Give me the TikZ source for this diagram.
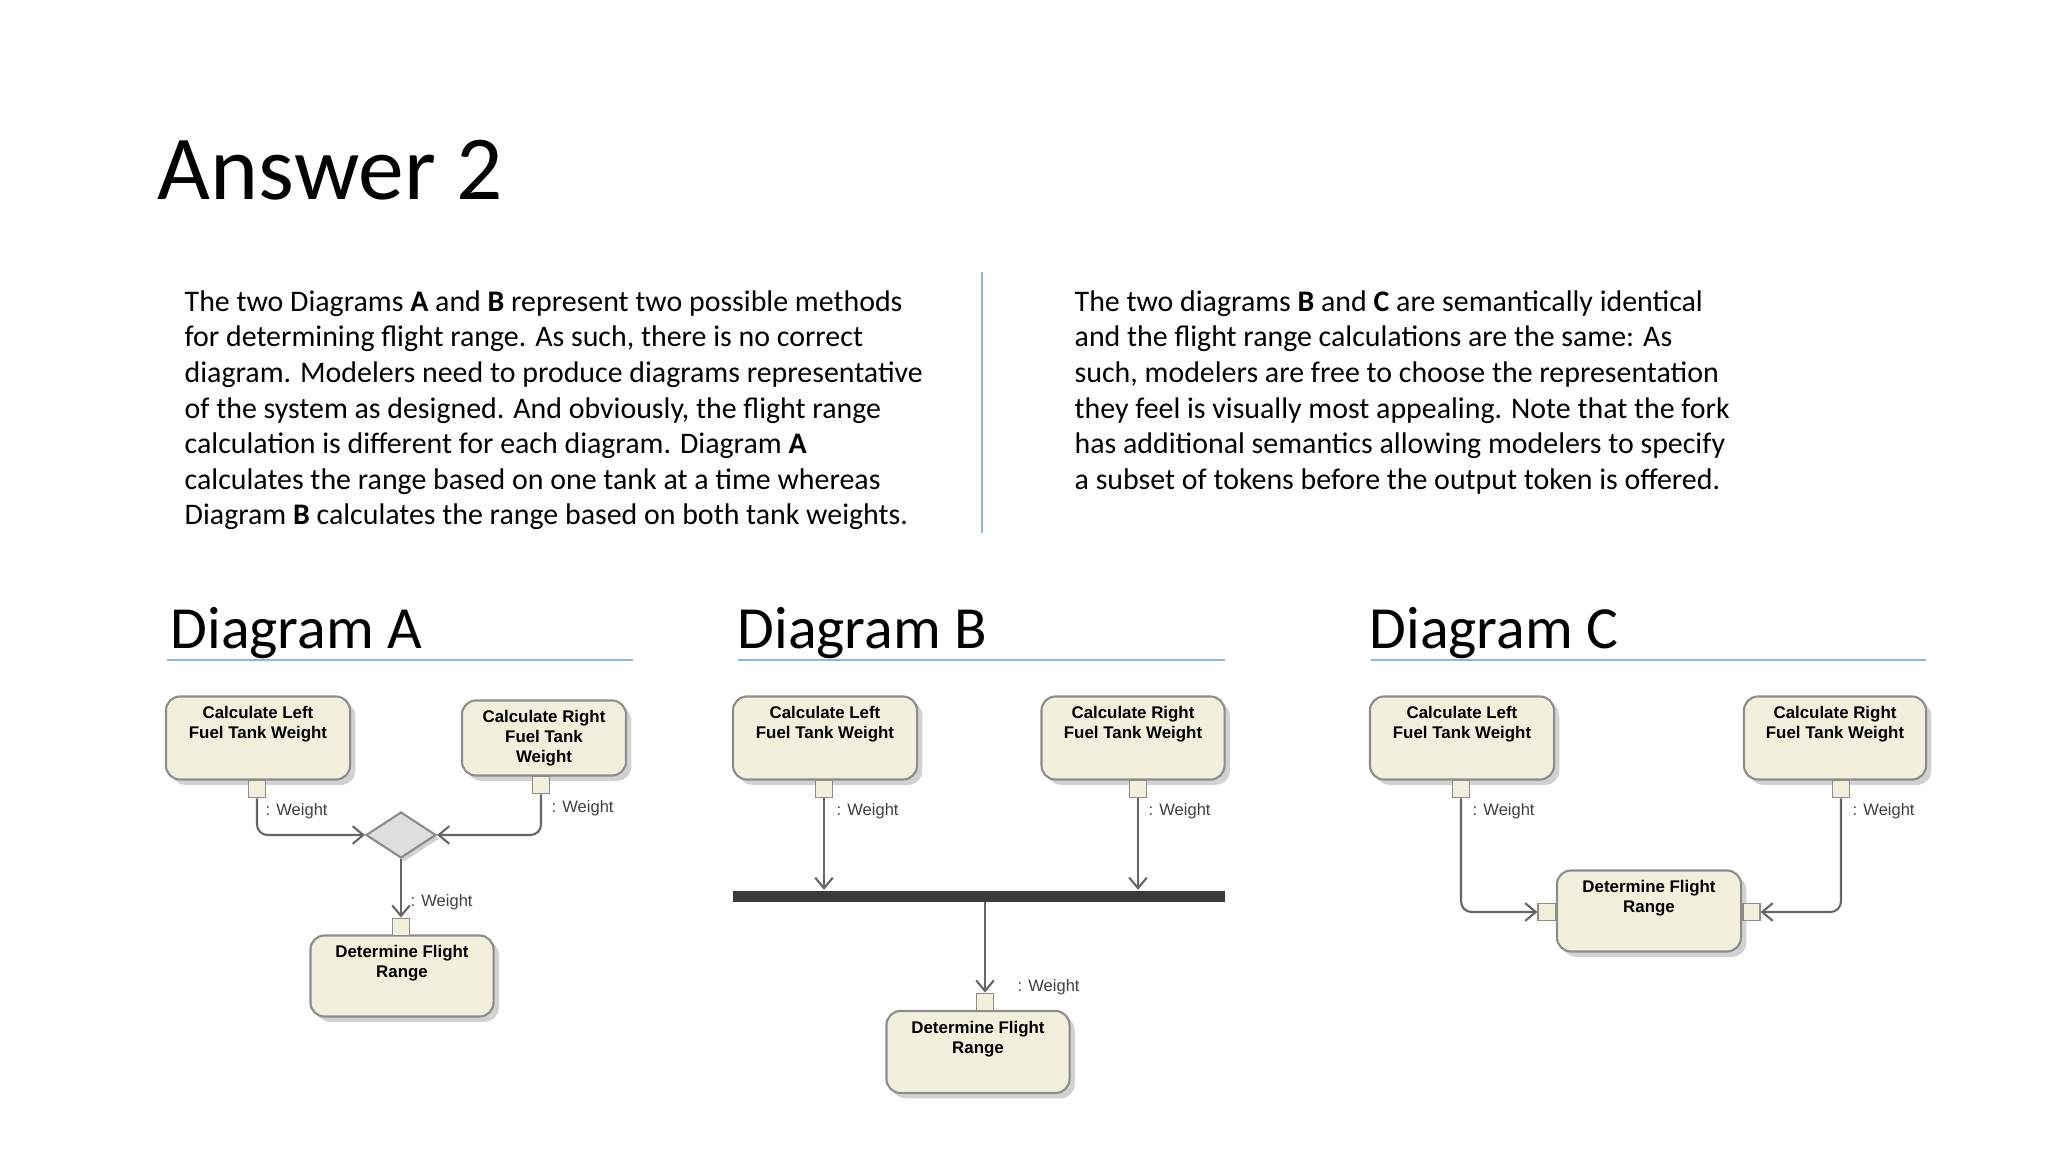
\documentclass[tikz,border=0pt]{standalone}
\usepackage{fontspec}
\setmainfont{Carlito}
\newfontfamily\diagfont{Liberation Sans}
\usetikzlibrary{arrows.meta,positioning,shadows,shapes.geometric}
\definecolor{boxfill}{RGB}{242,240,221}
\definecolor{boxline}{RGB}{140,140,140}
\definecolor{rulecolour}{RGB}{142,180,227}
\definecolor{barcolour}{RGB}{58,58,58}
\definecolor{diamondfill}{RGB}{222,222,222}

\begin{document}
\begin{tikzpicture}[
    x=0.01cm, y=-0.01cm,
    action/.style={rectangle, draw=boxline, fill=boxfill, rounded corners=4pt, line width=0.6pt,
                   drop shadow={shadow xshift=1.5pt, shadow yshift=-1.5pt, fill=black!35}},
    actiontext/.style={anchor=north, inner sep=3pt, align=center,
                       font=\diagfont\bfseries\fontsize{4.8}{5.6}\selectfont},
    pin/.style={rectangle, draw=boxline, fill=boxfill, minimum size=0.17cm, inner sep=0pt},
    flow/.style={draw=black!60, line width=0.6pt, -{Straight Barb[length=3pt,width=5pt]}},
    pinlabel/.style={anchor=west, inner sep=0pt, text=black!75, font=\diagfont\fontsize{4.7}{5.6}\selectfont},
    heading/.style={anchor=base west, inner sep=0pt, font=\fontsize{17}{20}\selectfont},
    bodytext/.style={anchor=north west, inner sep=0pt, align=left, font=\fontsize{8.5}{10.1}\selectfont}
]
\fill[white] (0,0) rectangle (2048,1152);
\useasboundingbox (0,0) rectangle (2048,1152);

% Title and text
\node[anchor=base west, inner sep=0pt, font=\fontsize{26}{30}\selectfont] (title) at (157,200) {Answer 2};
\node[bodytext] (textleft) at (184,290) {The two Diagrams \textbf{A} and \textbf{B} represent two possible methods\\
for determining flight range. As such, there is no correct\\
diagram. Modelers need to produce diagrams representative\\
of the system as designed. And obviously, the flight range\\
calculation is different for each diagram. Diagram \textbf{A}\\
calculates the range based on one tank at a time whereas\\
Diagram \textbf{B} calculates the range based on both tank weights.};
\node[bodytext] (textright) at (1074,290) {The two diagrams \textbf{B} and \textbf{C} are semantically identical\\
and the flight range calculations are the same: As\\
such, modelers are free to choose the representation\\
they feel is visually most appealing. Note that the fork\\
has additional semantics allowing modelers to specify\\
a subset of tokens before the output token is offered.};
\coordinate (divtop) at (982,272);
\coordinate (divbot) at (982,533);
\draw[rulecolour, line width=0.6pt] (divtop) -- (divbot);

% Headings
\node[heading] (headA) at (170,649) {Diagram A};
\node[heading] (headB) at (737,649) {Diagram B};
\node[heading] (headC) at (1369,649) {Diagram C};
\coordinate (ruleA1) at (167,660); \coordinate (ruleA2) at (633,660);
\coordinate (ruleB1) at (738,660); \coordinate (ruleB2) at (1225,660);
\coordinate (ruleC1) at (1371,660); \coordinate (ruleC2) at (1926,660);
\draw[rulecolour, line width=0.6pt] (ruleA1) -- (ruleA2);
\draw[rulecolour, line width=0.6pt] (ruleB1) -- (ruleB2);
\draw[rulecolour, line width=0.6pt] (ruleC1) -- (ruleC2);

% Diagram A
\node[action, minimum width=1.84cm, minimum height=0.83cm] (leftA) at (258,738) {};
\node[actiontext] at (leftA.north) {Calculate Left\\Fuel Tank Weight};
\node[action, minimum width=1.64cm, minimum height=0.75cm] (rightA) at (544,738) {};
\node[actiontext] at (rightA.north) {Calculate Right\\Fuel Tank\\Weight};
\node[pin, anchor=north] (lpinA) at (257,780) {};
\node[pin, anchor=north] (rpinA) at (541,776) {};
\node[diamond, draw=boxline, fill=diamondfill, line width=0.6pt, minimum width=0.70cm, minimum height=0.46cm,
      inner sep=0pt, drop shadow={shadow xshift=1pt, shadow yshift=-1pt, fill=black!35}] (mergeA) at (401,835) {};
\node[action, minimum width=1.83cm, minimum height=0.81cm] (rangeA) at (402,976) {};
\node[actiontext] at (rangeA.north) {Determine Flight\\Range};
\node[pin, anchor=south] (dpinA) at (401,936) {};
\draw[flow, rounded corners=3pt] (lpinA.south) |- (mergeA.west);
\draw[flow, rounded corners=3pt] (rpinA.south) |- (mergeA.east);
\draw[flow] (mergeA.south) -- (dpinA.north);
\node[pinlabel] (lwA) at (265,811) {: Weight};
\node[pinlabel] (rwA) at (551,808) {: Weight};
\node[pinlabel] (dwA) at (410,902) {: Weight};

% Diagram B
\node[action, minimum width=1.84cm, minimum height=0.83cm] (leftB) at (825,738) {};
\node[actiontext] at (leftB.north) {Calculate Left\\Fuel Tank Weight};
\node[action, minimum width=1.83cm, minimum height=0.83cm] (rightB) at (1133,738) {};
\node[actiontext] at (rightB.north) {Calculate Right\\Fuel Tank Weight};
\node[pin, anchor=north] (lpinB) at (824,780) {};
\node[pin, anchor=north] (rpinB) at (1138,780) {};
\node[rectangle, fill=barcolour, minimum width=4.92cm, minimum height=0.11cm, inner sep=0pt] (forkB) at (979,896) {};
\node[action, minimum width=1.83cm, minimum height=0.82cm] (rangeB) at (978,1052) {};
\node[actiontext] at (rangeB.north) {Determine Flight\\Range};
\node[pin, anchor=south] (dpinB) at (985,1011) {};
\draw[flow] (lpinB.south) -- (lpinB.south |- forkB.north);
\draw[flow] (rpinB.south) -- (rpinB.south |- forkB.north);
\draw[flow] (dpinB.north |- forkB.south) -- (dpinB.north);
\node[pinlabel] (lwB) at (836,811) {: Weight};
\node[pinlabel] (rwB) at (1148,811) {: Weight};
\node[pinlabel] (dwB) at (1017,987) {: Weight};

% Diagram C
\node[action, minimum width=1.84cm, minimum height=0.83cm] (leftC) at (1462,738) {};
\node[actiontext] at (leftC.north) {Calculate Left\\Fuel Tank Weight};
\node[action, minimum width=1.82cm, minimum height=0.83cm] (rightC) at (1835,738) {};
\node[actiontext] at (rightC.north) {Calculate Right\\Fuel Tank Weight};
\node[pin, anchor=north] (lpinC) at (1461,780) {};
\node[pin, anchor=north] (rpinC) at (1841,780) {};
\node[action, minimum width=1.84cm, minimum height=0.81cm] (rangeC) at (1649,911) {};
\node[actiontext] at (rangeC.north) {Determine Flight\\Range};
\node[pin, anchor=east] (dlpinC) at (rangeC.west |- 0,912) {};
\node[pin, anchor=west] (drpinC) at (rangeC.east |- 0,912) {};
\draw[flow, rounded corners=3pt] (lpinC.south) |- (dlpinC.west);
\draw[flow, rounded corners=3pt] (rpinC.south) |- (drpinC.east);
\node[pinlabel] (lwC) at (1472,811) {: Weight};
\node[pinlabel] (rwC) at (1852,811) {: Weight};

\end{tikzpicture}
\end{document}
